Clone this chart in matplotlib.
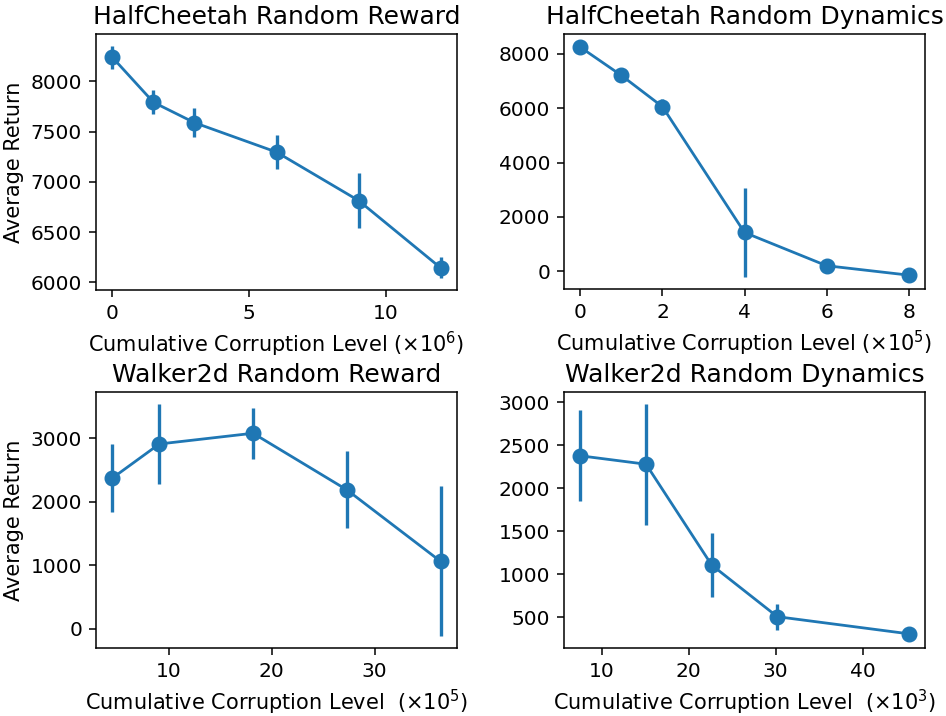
import matplotlib
matplotlib.use("Agg")
import matplotlib.pyplot as plt

# Panel 1: HalfCheetah Random Reward
hc_rew_x = [0, 1.5, 3, 6, 9, 12]
hc_rew_y = [8240, 7793, 7590, 7297, 6815, 6145]
hc_rew_err = [117, 120, 145, 170, 275, 105]

# Panel 2: HalfCheetah Random Dynamics
hc_dyn_x = [0, 1, 2, 4, 6, 8]
hc_dyn_y = [8235, 7198, 6050, 1430, 210, -136]
hc_dyn_err = [60, 60, 300, 1650, 250, 60]

# Panel 3: Walker2d Random Reward
wk_rew_x = [4.55, 9.1, 18.2, 27.3, 36.4]
wk_rew_y = [2374, 2910, 3079, 2189, 1063]
wk_rew_err = [530, 635, 400, 605, 1180]

# Panel 4: Walker2d Random Dynamics
wk_dyn_x = [7.55, 15.1, 22.65, 30.2, 45.3]
wk_dyn_y = [2376, 2278, 1105, 504, 305]
wk_dyn_err = [530, 705, 370, 150, 30]

titles = ["HalfCheetah Random Reward", "HalfCheetah Random Dynamics",
          "Walker2d Random Reward", "Walker2d Random Dynamics"]
xlabels = [r"Cumulative Corruption Level ($\times 10^6$)",
           r"Cumulative Corruption Level ($\times 10^5$)",
           r"Cumulative Corruption Level  ($\times 10^5$)",
           r"Cumulative Corruption Level  ($\times 10^3$)"]

W, H = 946, 716
fig = plt.figure(figsize=(W / 100, H / 100), dpi=100)

boxes = [(96, 34, 457, 290), (564, 34, 925, 289),
         (96, 392, 457, 648), (564, 392, 925, 648)]
data = [(hc_rew_x, hc_rew_y, hc_rew_err), (hc_dyn_x, hc_dyn_y, hc_dyn_err),
        (wk_rew_x, wk_rew_y, wk_rew_err), (wk_dyn_x, wk_dyn_y, wk_dyn_err)]
color = "#1f77b4"

for i, ((l, t, r, b), (x, y, e)) in enumerate(zip(boxes, data)):
    ax = fig.add_axes([l / W, 1 - b / H, (r - l) / W, (b - t) / H])
    ax.errorbar(x, y, yerr=e, fmt="-o", color=color, lw=2.0,
                elinewidth=2.4, markersize=10.5, capsize=0)
    ax.set_title(titles[i], fontsize=18, pad=7)
    ax.set_xlabel(xlabels[i], fontsize=15, labelpad=5)
    if i % 2 == 0:
        ax.set_ylabel("Average Return", fontsize=15, labelpad=5)
    ax.tick_params(labelsize=14.5, length=5, width=1.1, pad=5)
    for s in ax.spines.values():
        s.set_linewidth(1.1)

ax_list = fig.axes
ax_list[0].set_xticks([0, 5, 10])
ax_list[0].set_yticks([6000, 6500, 7000, 7500, 8000])
ax_list[1].set_xticks([0, 2, 4, 6, 8])
ax_list[1].set_yticks([0, 2000, 4000, 6000, 8000])
ax_list[2].set_xticks([10, 20, 30])
ax_list[2].set_yticks([0, 1000, 2000, 3000])
ax_list[3].set_xticks([10, 20, 30, 40])
ax_list[3].set_yticks([500, 1000, 1500, 2000, 2500, 3000])

fig.savefig("out.png", dpi=100)
